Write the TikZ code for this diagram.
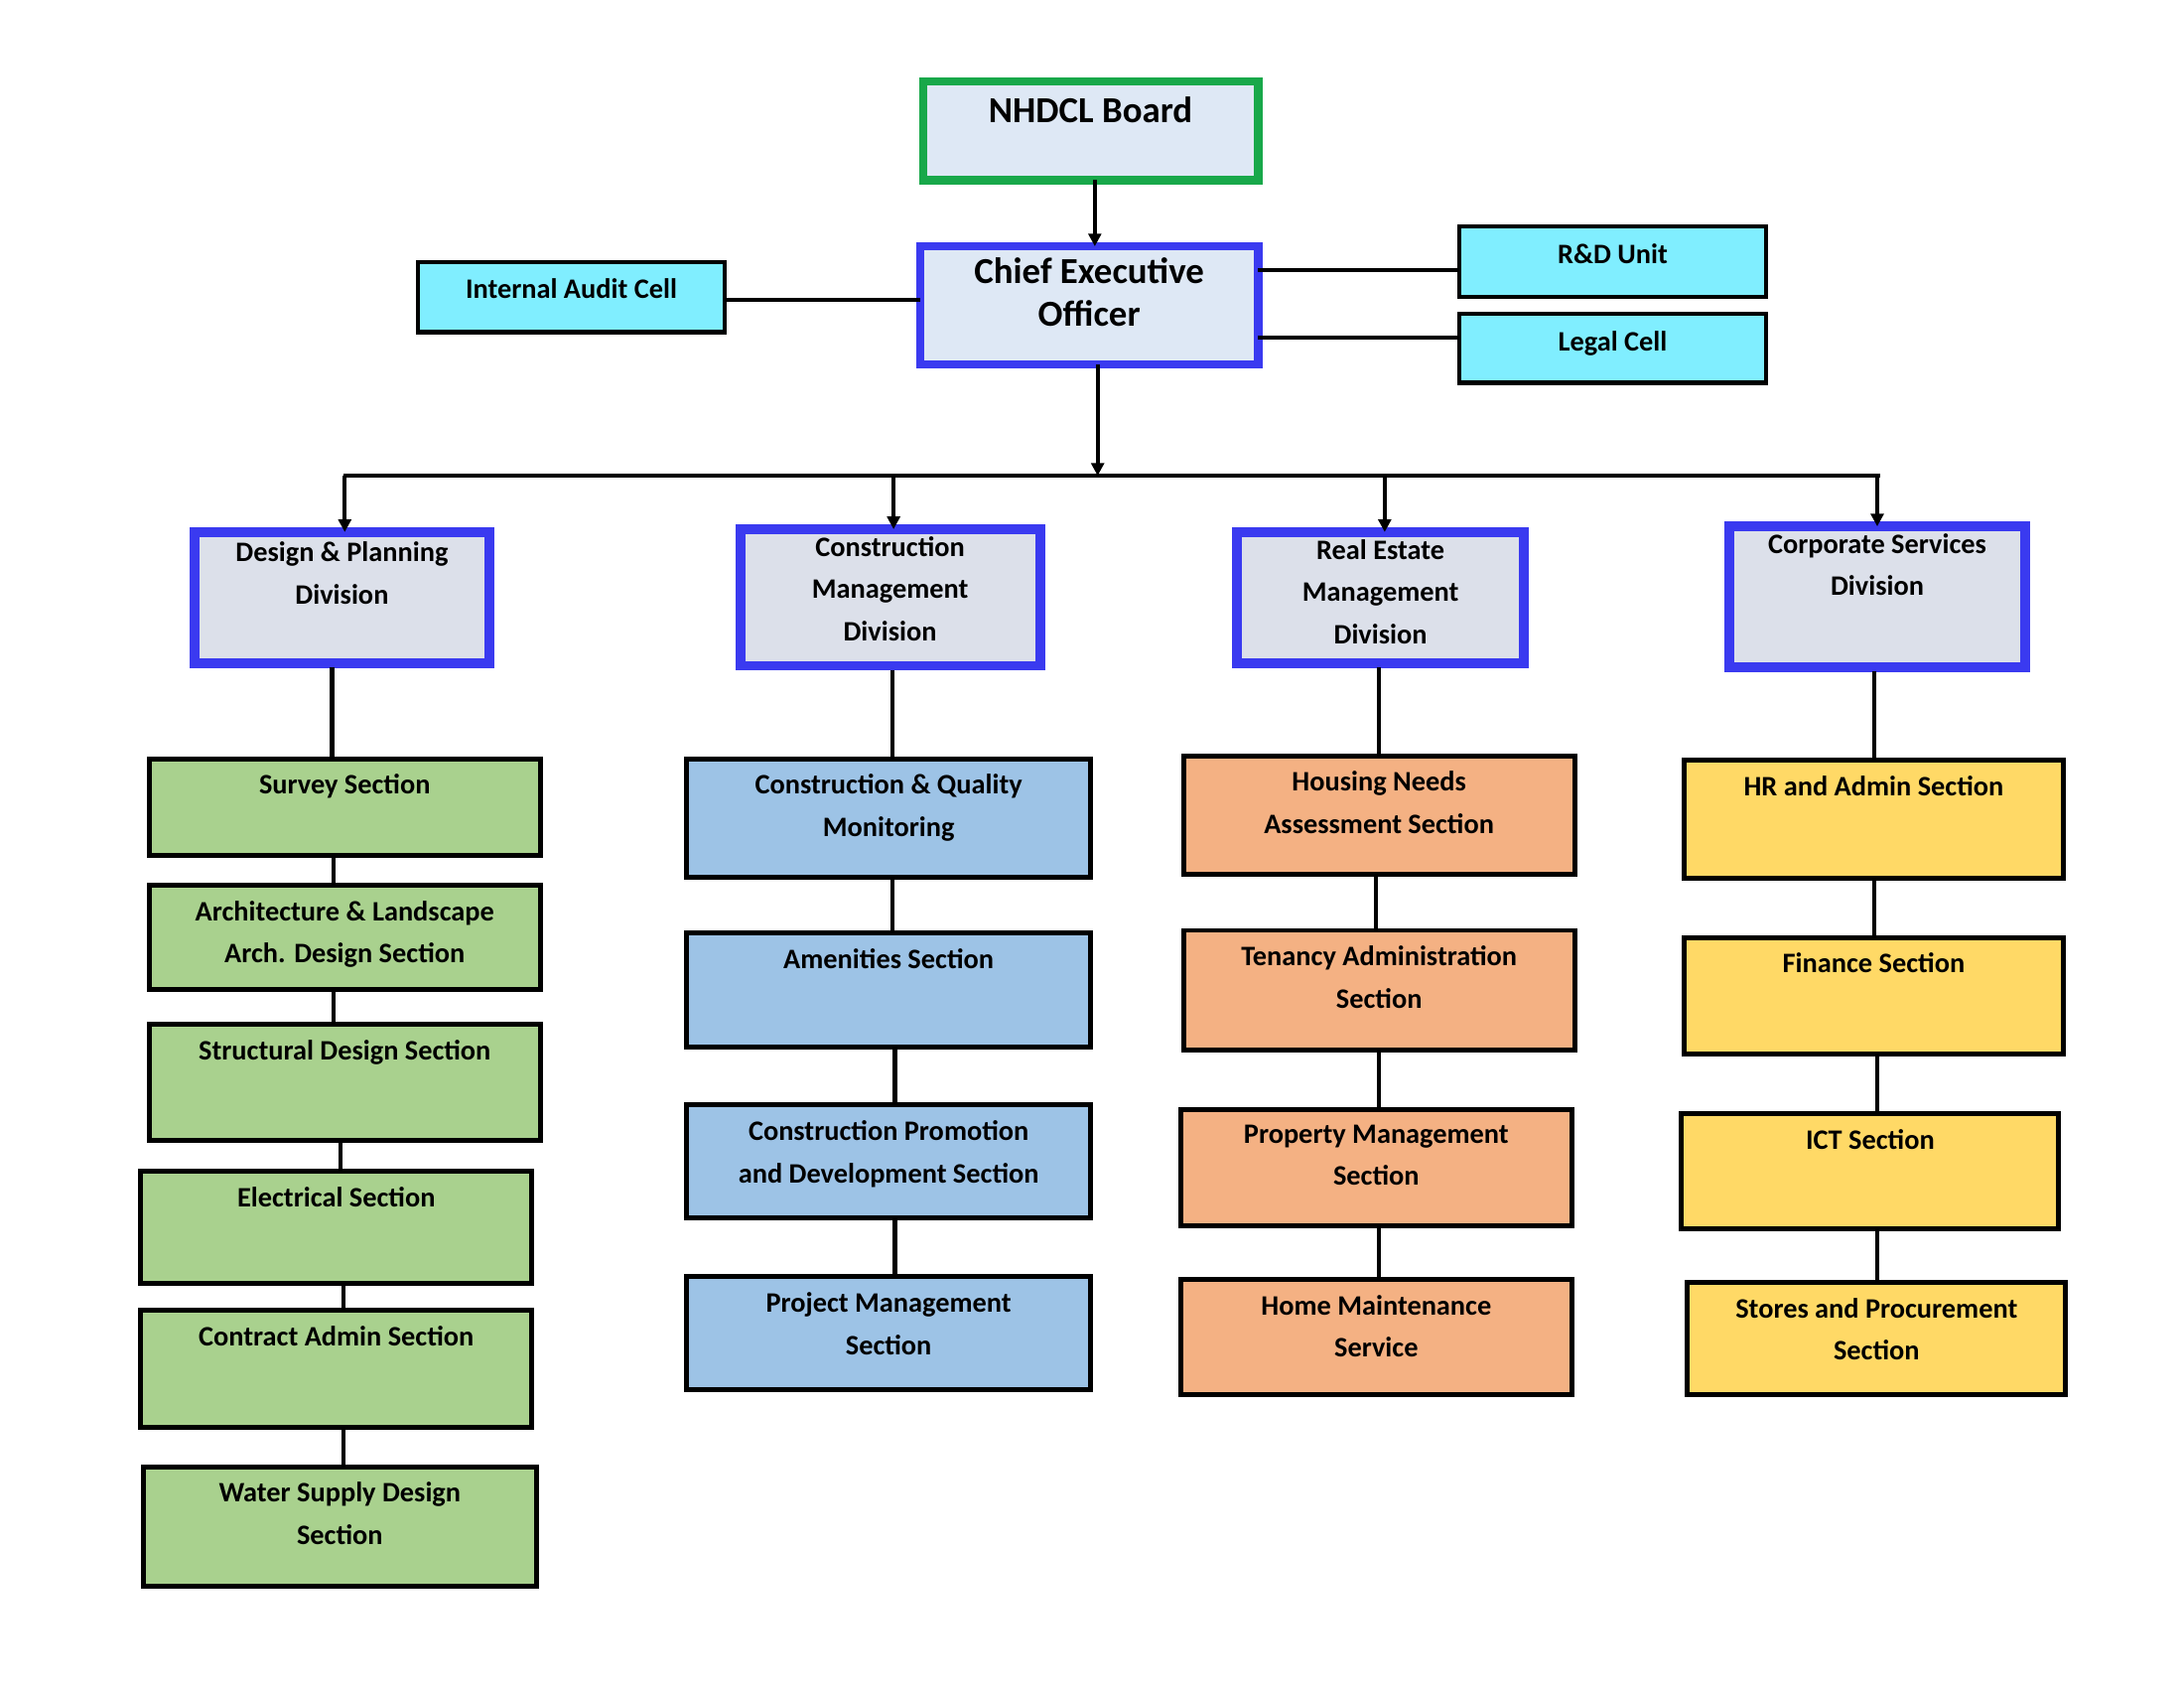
\documentclass[tikz,border=0pt]{standalone}
\usepackage{fontspec}
\setmainfont{Carlito}
\usetikzlibrary{arrows.meta}
\definecolor{bblue}{HTML}{3A3AF0}
\definecolor{bgreen}{HTML}{18A84A}
\definecolor{topfill}{HTML}{DEE8F5}
\definecolor{divfill}{HTML}{DCE0EA}
\definecolor{cyanf}{HTML}{80EEFF}
\definecolor{greenf}{HTML}{A9D18E}
\definecolor{bluef}{HTML}{9DC3E6}
\definecolor{orangef}{HTML}{F4B183}
\definecolor{yellowf}{HTML}{FFD966}
\tikzset{
 boxbase/.style={draw, inner sep=0pt, outer sep=0pt},
 topbox/.style={boxbase, fill=topfill, line width=6pt},
 divbox/.style={boxbase, fill=divfill, draw=bblue, line width=7pt},
 cyanbox/.style={boxbase, fill=cyanf, line width=3pt},
 gbox/.style={boxbase, fill=greenf, line width=3.5pt},
 bbox/.style={boxbase, fill=bluef, line width=3.5pt},
 obox/.style={boxbase, fill=orangef, line width=3.5pt},
 ybox/.style={boxbase, fill=yellowf, line width=3.5pt},
 txt/.style={anchor=north, align=center, inner sep=0pt, font=\bfseries\fontsize{20}{30}\selectfont},
 conn/.style={line width=3pt},
 arr/.style={line width=3pt, -{Triangle[length=9pt,width=9pt]}},
}
% name, style, x1, y1, x2, y2, yshift, text
\newcommand\mybx[8]{%
 \node[#2, minimum width={#5-#3}, minimum height={#6-#4}] (#1) at ({(#3+#5)/2},{(#4+#6)/2}) {};
 \node[txt] (#1t) at ([yshift=-#7pt]#1.north) {#8};}
\newcommand\vc[3]{\draw[conn] (#1,#2) -- (#1,0 |- #3.north);}
\begin{document}
\begin{tikzpicture}[x=1pt,y=-1pt]
\useasboundingbox (0,0) rectangle (1552,1200);
\mybx{nb}{topbox,draw=bgreen}{656}{58}{894}{128}{11}{\fontsize{26}{33}\selectfont NHDCL Board}
\mybx{ceo}{topbox,draw=bblue}{654}{175}{894}{259}{8}{\fontsize{26}{33}\selectfont Chief Executive\\\fontsize{26}{33}\selectfont Officer}
\mybx{ia}{cyanbox}{297}{186}{515}{236}{12}{Internal Audit Cell}
\mybx{rd}{cyanbox}{1037}{161}{1255}{211}{12}{R\&D Unit}
\mybx{lc}{cyanbox}{1037}{223}{1255}{272}{12}{Legal Cell}
\draw[arr] (778,0 |- nb.south) -- (778,0 |- ceo.north);
\draw[conn] (ia.east |- 0,213) -- (ceo.west |- 0,213);
\draw[conn] (ceo.east |- 0,192) -- (rd.west |- 0,192);
\draw[conn] (ceo.east |- 0,240) -- (lc.west |- 0,240);
\coordinate (hb) at (780,338);
\draw[arr] (780,0 |- ceo.south) -- (hb);
\draw[conn] (244,338) -- (1336,338);
\mybx{d1}{divbox}{138}{378}{348}{471}{7}{Design \& Planning\\Division}
\mybx{d2}{divbox}{526}{376}{739}{473}{5}{Construction\\Management\\Division}
\mybx{d3}{divbox}{879}{378}{1083}{471}{5}{Real Estate\\Management\\Division}
\mybx{d4}{divbox}{1229}{374}{1439}{474}{5}{Corporate Services\\Division}
\foreach \x/\d in {245/d1,635/d2,984/d3,1334/d4}{\draw[arr] (\x,338) -- (\x,0 |- \d.north);}
% green
\mybx{g1}{gbox}{106}{539}{384}{608}{11}{Survey Section}
\mybx{g2}{gbox}{106}{629}{384}{703}{11}{Architecture \& Landscape\\Arch. Design Section}
\mybx{g3}{gbox}{106}{728}{384}{810}{11}{Structural Design Section}
\mybx{g4}{gbox}{100}{832}{378}{912}{11}{Electrical Section}
\mybx{g5}{gbox}{100}{931}{378}{1014}{11}{Contract Admin Section}
\mybx{g6}{gbox}{102}{1042}{381}{1127}{11}{Water Supply Design\\Section}
% blue
\mybx{b1}{bbox}{488}{539}{775}{623}{11}{Construction \& Quality\\Monitoring}
\mybx{b2}{bbox}{488}{663}{775}{744}{11}{Amenities Section}
\mybx{b3}{bbox}{488}{785}{775}{865}{11}{Construction Promotion\\and Development Section}
\mybx{b4}{bbox}{488}{907}{775}{987}{11}{Project Management\\Section}
% orange
\mybx{o1}{obox}{841}{537}{1119}{621}{11}{Housing Needs\\Assessment Section}
\mybx{o2}{obox}{841}{661}{1119}{746}{11}{Tenancy Administration\\Section}
\mybx{o3}{obox}{839}{788}{1117}{871}{11}{Property Management\\Section}
\mybx{o4}{obox}{839}{909}{1117}{991}{11}{Home Maintenance\\Service}
% yellow
\mybx{y1}{ybox}{1197}{540}{1466}{624}{11}{HR and Admin Section}
\mybx{y2}{ybox}{1197}{666}{1466}{749}{11}{Finance Section}
\mybx{y3}{ybox}{1195}{791}{1463}{873}{11}{ICT Section}
\mybx{y4}{ybox}{1199}{911}{1468}{991}{11}{Stores and Procurement\\Section}
% connectors
\vc{236}{474}{g1}\vc{237}{608}{g2}\vc{237}{703}{g3}\vc{242}{810}{g4}\vc{244}{912}{g5}\vc{244}{1014}{g6}
\vc{634}{476}{b1}\vc{634}{623}{b2}\vc{636}{744}{b3}\vc{636}{865}{b4}
\vc{980}{474}{o1}\vc{978}{621}{o2}\vc{980}{746}{o3}\vc{980}{871}{o4}
\vc{1332}{477}{y1}\vc{1332}{624}{y2}\vc{1334}{749}{y3}\vc{1334}{873}{y4}
\end{tikzpicture}
\end{document}
